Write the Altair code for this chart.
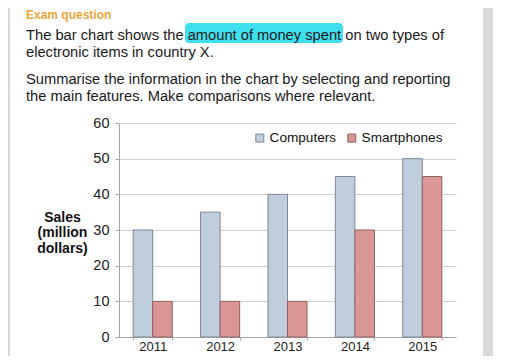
import altair as alt
import pandas as pd

years = ["2011", "2012", "2013", "2014", "2015"]
computers = [30, 35, 40, 45, 50]
smartphones = [10, 10, 10, 30, 45]
series_names = ["Computers", "Smartphones"]
y_ticks = [0, 10, 20, 30, 40, 50, 60]

heading = "Exam question"
line1 = "The bar chart shows the amount of money spent on two types of"
line2 = "electronic items in country X."
line3 = "Summarise the information in the chart by selecting and reporting"
line4 = "the main features. Make comparisons where relevant."
y_title = ["Sales", "(million", "dollars)"]

FONT = "Liberation Sans"

rows = []
for i, yr in enumerate(years):
    rows.append({"year": yr, "series": series_names[0], "value": computers[i]})
    rows.append({"year": yr, "series": series_names[1], "value": smartphones[i]})
df = pd.DataFrame(rows)

one = pd.DataFrame({"k": [0]})

def legend():
    return alt.Legend(title=None, orient="none", legendX=134, legendY=8,
                      direction="horizontal", symbolType="square",
                      symbolSize=64, labelFontSize=13.6, labelFont=FONT,
                      labelColor="#111111", labelOffset=3,
                      columnPadding=8, padding=0, symbolStrokeWidth=1)

bars = alt.Chart(df).mark_bar(strokeWidth=1).encode(
    x=alt.X("year:N", sort=years,
            scale=alt.Scale(paddingInner=0.42, paddingOuter=0.21),
            axis=alt.Axis(title=None, labelAngle=0, labelFontSize=13, labelFont=FONT,
                          labelColor="#222222", tickBand="extent", domainColor="#a6a6a6",
                          tickColor="#a6a6a6", tickSize=3, labelPadding=0, grid=False)),
    xOffset=alt.XOffset("series:N", sort=series_names),
    y=alt.Y("value:Q", scale=alt.Scale(domain=[0, 60], nice=False),
            axis=alt.Axis(values=y_ticks, title=y_title, titleAngle=0, titleAlign="center",
                          titleBaseline="top", titleX=-57, titleY=87, titleFontSize=14,
                          titleFont=FONT, titleFontWeight="bold", titleColor="#111111",
                          titleLineHeight=15.7,
                          labelFontSize=14.5, labelFont=FONT, labelColor="#222222",
                          tickSize=4, labelPadding=6, domainColor="#a6a6a6",
                          tickColor="#a6a6a6", gridColor="#cfcfcf")),
    color=alt.Color("series:N", sort=series_names,
                    scale=alt.Scale(domain=series_names, range=["#bfcddc", "#d99694"]),
                    legend=legend()),
    stroke=alt.Stroke("series:N", sort=series_names,
                      scale=alt.Scale(domain=series_names, range=["#7d8896", "#8f6262"]),
                      legend=legend()),
)

def rect(x, x2, y, y2, color, radius=0):
    return alt.Chart(one).mark_rect(color=color, cornerRadius=radius).encode(
        x=alt.value(x), x2=alt.value(x2), y=alt.value(y), y2=alt.value(y2))

def text(t, x, y, size=14.7, weight="normal", color="#1a1a1a"):
    return alt.Chart(pd.DataFrame({"t": [t]})).mark_text(
        align="left", baseline="alphabetic", fontSize=size, font=FONT,
        fontWeight=weight, color=color).encode(
        text="t:N", x=alt.value(x), y=alt.value(y))

decor = [
    rect(364, 374, -115, 233, "#d9d9d9"),
    rect(-111, -109, -115, 233, "#d9d9d9"),
    rect(66, 224, -100, -80, "#3fe0ee", 4),
]

texts = [
    text(heading, -93, -104.5, size=12, weight="bold", color="#eea53a"),
    text(line1, -93, -83.5),
    text(line2, -93, -66.5),
    text(line3, -93, -39.5),
    text(line4, -93, -22.5),
]

chart = alt.layer(*decor, *texts, bars).properties(
    width=337, height=214,
    autosize=alt.AutoSizeParams(type="none"),
    padding={"left": 111, "top": 115, "right": 48, "bottom": 19},
    background="white",
).configure_view(stroke=None)

chart.save("out.html", embed_options={"renderer": "svg", "actions": False})
